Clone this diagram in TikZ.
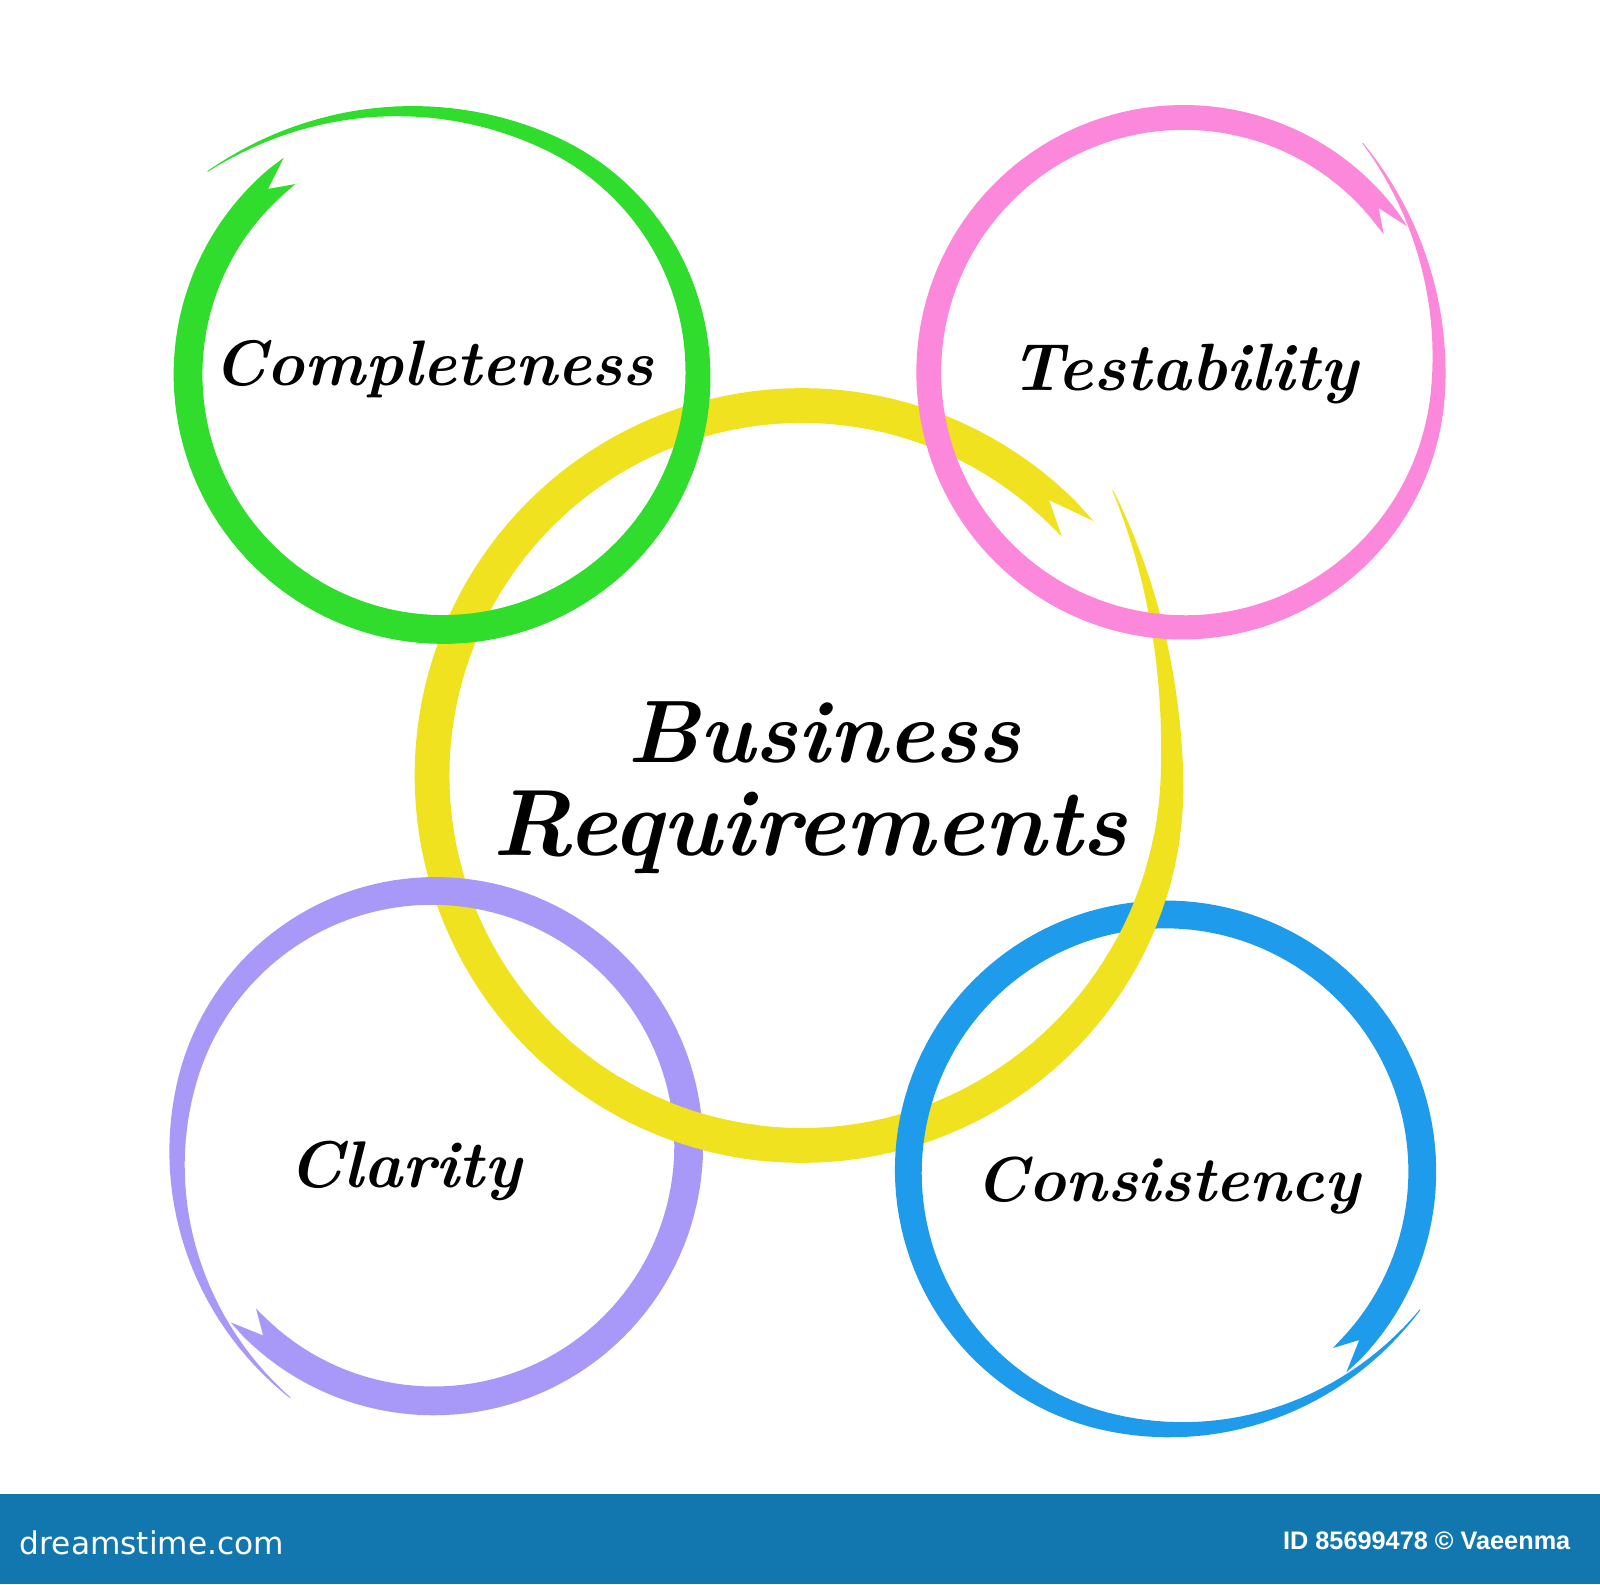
\documentclass[tikz,border=0pt]{standalone}
\usepackage{fontspec}
\usepackage{graphicx}
\newfontfamily\barfont{Liberation Sans}
\newfontfamily\logofont{DejaVu Sans}
\definecolor{cgreen}{RGB}{48,220,44}
\definecolor{cpink}{RGB}{252,136,220}
\definecolor{cyellow}{RGB}{240,226,30}
\definecolor{clav}{RGB}{168,152,248}
\definecolor{cblue}{RGB}{30,155,235}
\definecolor{cbar}{RGB}{17,119,174}
\newcommand\brush[9]{\def\bCx{#1}\def\bCy{#2}\def\bR{#3}\def\bW{#4}\def\bA{#5}\def\bS{#6}\def\bTs{#7}\def\bTd{#8}\def\bE{#9}}
\newcommand\ringpath{%
 plot[domain=0:1,samples=160] ({\bCx+(rr(\x)+ww(\x)/2)*cos(\bA+\bS*\x)},{\bCy+(rr(\x)+ww(\x)/2)*sin(\bA+\bS*\x)})
 -- plot[domain=1:0,samples=160] ({\bCx+(rr(\x)-ww(\x)/2)*cos(\bA+\bS*\x)},{\bCy+(rr(\x)-ww(\x)/2)*sin(\bA+\bS*\x)})
 -- ({\bCx+(\bR-\bW/2)*cos(\bA-2.5)},{\bCy+(\bR-\bW/2)*sin(\bA-2.5)})
 -- ({\bCx+\bR*cos(\bA+3)},{\bCy+\bR*sin(\bA+3)})
 -- ({\bCx+(\bR+\bW/2)*cos(\bA-4)},{\bCy+(\bR+\bW/2)*sin(\bA-4)})
 -- cycle}
\tikzset{
  declare function={
    uu(\x)=max(0,(\x-\bTs)/(1-\bTs));
    vv(\x)=max(0,(\x-\bTd)/(1-\bTd));
    ww(\x)=\bW*(1-uu(\x)*uu(\x))+0.8;
    rr(\x)=\bR+\bE*vv(\x)*vv(\x);
  },
  label/.style={anchor=base,inner sep=0pt,font=\bfseries\itshape},
  bartext/.style={inner sep=0pt,text=white}
}
\begin{document}
\begin{tikzpicture}[x=0.01cm,y=0.01cm]
\useasboundingbox (0,0) rectangle (1600,1584);
\fill[white] (0,0) rectangle (1600,1584);
% central ring
\brush{802}{808.5}{370}{34}{45.1}{357.5}{0.7}{0.88}{52}
\fill[cyellow] \ringpath;
% green
\brush{443}{1209.5}{255}{28}{130.3}{369}{0.4}{0.8}{56}
\fill[cgreen] \ringpath;
% pink
\brush{1183.7}{1211.6}{255}{24}{37.1}{375}{0.55}{0.85}{36}
\fill[cpink] \ringpath;
% lavender
\brush{433.7}{438.1}{255}{28}{225}{375.4}{0.5}{0.8}{35}
\fill[clav] \ringpath;
% blue
\brush{1165.3}{412.6}{257}{27}{316}{375.6}{0.5}{0.8}{33}
\fill[cblue] \ringpath;
% yellow passes over lavender and blue at two crossings
\brush{802}{808.5}{370}{34}{45.1}{357.5}{0.7}{0.88}{52}
\begin{scope}
\clip (620,404) rectangle (760,554);
\fill[cyellow] \ringpath;
\end{scope}
\begin{scope}
\clip (1090,604) rectangle (1220,744);
\fill[cyellow] \ringpath;
\end{scope}
% labels
\node[label] (comp) at (434,1198) {\resizebox{4.40cm}{!}{Completeness}};
\node[label] (test) at (1184,1193) {\resizebox{3.47cm}{!}{Testability}};
\node[label] (bus) at (824,821) {\resizebox{3.93cm}{!}{Business}};
\node[label] (req) at (810,729) {\resizebox{6.35cm}{!}{Requirements}};
\node[label] (clar) at (405,397) {\resizebox{2.32cm}{!}{Clarity}};
\node[label] (cons) at (1168,383) {\resizebox{3.84cm}{!}{Consistency}};
% bottom bar
\fill[cbar] (0,0) rectangle (1600,90);
\node[bartext] (logo) at (152,41) {\resizebox{2.64cm}{!}{\logofont dreamstime.com}};
\node[bartext,anchor=east] (credit) at (1571,43) {\resizebox{2.87cm}{!}{\barfont\bfseries ID 85699478 © Vaeenma}};
\end{tikzpicture}
\end{document}
